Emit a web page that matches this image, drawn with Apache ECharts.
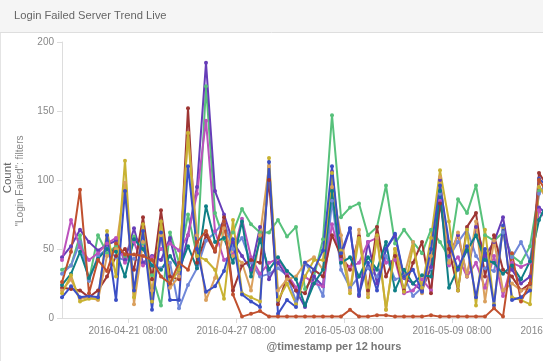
<!DOCTYPE html>
<html>
<head>
<meta charset="utf-8">
<script src="https://cdn.jsdelivr.net/npm/echarts@6/dist/echarts.min.js"></script>
<style>
html,body{margin:0;padding:0;background:#fff;overflow:hidden;}
#c{width:543px;height:361px;}
</style>
</head>
<body>
<div id="c"></div>
<script>
// Time axis: hours after 2016-04-17 16:00, one bucket per 12 hours
const startUTC = Date.UTC(2016, 3, 17, 16, 0);
const bucketHours = 12;
const tickHours = [88, 232, 376, 520, 664];
const yTicks = [0, 50, 100, 150, 200];

const green   = [35,38,60,27,60,47,52,45,59,54,31,9,62,40,75,45,168,76,57,62,79,68,62,62,71,59,66,21,30,57,147,73,80,83,60,66,96,54,64,55,47,64,55,44,86,76,96,60,56,62,45,40,52,92,95,80,70];
const lightBlue=[32,38,55,27,45,50,44,42,43,40,38,36,40,7,24,36,56,62,70,50,58,40,30,32,36,31,12,40,30,16,85,35,22,30,36,30,45,28,30,16,22,36,90,44,55,64,45,36,34,62,44,55,41,90,100,80,70];
const purple  = [44,52,64,55,49,53,56,42,65,40,45,42,58,30,60,95,185,92,75,55,45,35,66,28,40,30,20,8,30,23,106,44,65,16,55,25,50,60,29,25,20,37,100,45,60,30,66,45,55,73,35,25,30,80,75,65,60];
const magenta = [42,71,51,42,47,54,58,40,55,38,44,50,54,49,60,90,143,63,42,46,72,44,32,40,43,32,22,30,25,23,68,42,37,40,55,58,40,42,18,20,28,20,85,38,44,30,40,22,45,16,40,37,40,78,70,55,50];
const darkRed = [22,21,20,15,20,30,45,50,35,73,28,78,30,28,152,40,60,48,73,20,38,42,40,100,10,30,20,18,35,30,60,45,35,59,20,66,30,45,20,40,55,18,83,50,20,66,76,30,60,35,30,20,25,105,95,85,70];
const orange  = [20,28,14,15,13,45,50,98,10,55,20,60,22,30,134,60,13,29,65,45,40,20,60,110,20,28,30,40,44,35,95,60,20,64,17,58,6,50,30,55,18,45,102,40,62,30,70,12,56,20,25,20,22,95,85,70,60];
const teal    = [24,32,48,29,43,50,48,30,57,50,38,35,45,35,52,36,81,55,58,40,70,30,57,35,44,34,28,9,25,35,92,40,44,30,44,35,55,20,35,25,31,30,92,22,36,49,60,42,40,32,38,28,41,71,85,75,65];
const olive   = [18,31,12,14,14,63,30,114,15,68,12,70,25,35,134,45,42,35,14,71,18,15,12,116,13,25,10,30,42,42,105,49,18,58,15,60,6,50,19,52,22,58,107,70,20,64,9,64,10,66,15,13,10,95,88,72,60];
const royal   = [15,23,15,16,15,60,13,92,20,63,6,62,13,13,110,50,19,23,34,57,17,12,8,113,3,13,8,40,35,49,110,47,65,17,40,20,50,61,30,35,19,50,96,55,35,52,15,50,9,67,13,15,20,101,95,80,70];
const brick   = [26,48,93,18,42,34,54,46,46,45,42,30,25,40,35,55,63,49,70,17,1,3,5,1,1,1,1,1,1,1,1,1,6,1,1,2,2,1,1,1,1,2,1,1,1,1,1,1,7,1,47,12,25,100,90,70,60];

const seriesList = [
  ['green', green, '#57c17b'],
  ['lightBlue', lightBlue, '#6f87d8'],
  ['purple', purple, '#663db8'],
  ['magenta', magenta, '#bc52bc'],
  ['darkRed', darkRed, '#9e3533'],
  ['orange', orange, '#daa05d'],
  ['teal', teal, '#0f7f86'],
  ['olive', olive, '#c8b232'],
  ['royal', royal, '#3b4fc5'],
  ['brick', brick, '#c0502e']
];

function pad(n){return (n<10?'0':'')+n;}
function fmtHour(h){
  const d = new Date(startUTC + h*3600e3);
  return d.getUTCFullYear()+'-'+pad(d.getUTCMonth()+1)+'-'+pad(d.getUTCDate())+' '+pad(d.getUTCHours())+':'+pad(d.getUTCMinutes());
}

const chart = echarts.init(document.getElementById('c'), null, {renderer:'canvas'});
const option = {
  animation: false,
  backgroundColor: '#fff',
  grid: {left: 62, top: 42, height: 276, width: 504, containLabel: false, outerBoundsMode: 'none'},
  xAxis: {
    type: 'value', min: 0, max: 672,
    axisLine: {show: true, lineStyle: {color: '#ddd', width: 1}},
    axisTick: {show: true, length: 5, lineStyle: {color: '#ddd'}, customValues: tickHours},
    axisLabel: {color: '#888', fontSize: 10, fontFamily: 'Liberation Sans, Arial, sans-serif', margin: 8,
      customValues: tickHours, formatter: function(v){return fmtHour(v);}},
    splitLine: {show: false}
  },
  yAxis: {
    type: 'value', min: 0, max: 200, interval: 50, offset: 3,
    axisLine: {show: true, lineStyle: {color: '#ddd', width: 1}},
    axisTick: {show: true, length: 5, lineStyle: {color: '#ddd'}},
    axisLabel: {color: '#888', fontSize: 10, fontFamily: 'Liberation Sans, Arial, sans-serif', margin: 5},
    splitLine: {show: false}
  },
  graphic: [
    {type: 'rect', shape: {x: 0, y: 0, width: 543, height: 32}, style: {fill: '#f5f5f5'}, silent: true},
    {type: 'line', shape: {x1: 0, y1: 32.5, x2: 543, y2: 32.5}, style: {stroke: '#dedede', lineWidth: 1}, silent: true},
    {type: 'line', shape: {x1: 0.5, y1: 33, x2: 0.5, y2: 361}, style: {stroke: '#e4e4e4', lineWidth: 1}, silent: true},
    {type: 'line', shape: {x1: 62.5, y1: 42, x2: 62.5, y2: 318}, style: {stroke: '#eeeeee', lineWidth: 1}, silent: true},
    {type: 'text', left: 14, top: 10, style: {text: 'Login Failed Server Trend Live', fill: '#666', fontSize: 11.2, fontFamily: 'Liberation Sans, Arial, sans-serif'}},
    {type: 'text', x: 8, y: 178, rotation: Math.PI/2, style: {text: 'Count', fill: '#666', fontSize: 11.5, fontFamily: 'Liberation Sans, Arial, sans-serif', align: 'center', verticalAlign: 'middle'}},
    {type: 'text', x: 20, y: 181, rotation: Math.PI/2, style: {text: '"Login Failed": filters', fill: '#888', fontSize: 10, fontFamily: 'Liberation Sans, Arial, sans-serif', align: 'center', verticalAlign: 'middle'}},
    {type: 'text', x: 334, y: 347, style: {text: '@timestamp per 12 hours', fill: '#777', fontSize: 11, fontWeight: 'bold', fontFamily: 'Liberation Sans, Arial, sans-serif', align: 'center', verticalAlign: 'middle'}}
  ],
  series: seriesList.map(function(s){
    return {
      name: s[0], type: 'line',
      data: s[1].map(function(v, i){return [i*bucketHours, v];}),
      symbol: 'circle', symbolSize: 4, showSymbol: true,
      lineStyle: {width: 2, color: s[2]},
      itemStyle: {color: s[2]},
      emphasis: {disabled: true},
      clip: true
    };
  })
};
chart.setOption(option);
</script>
</body>
</html>
